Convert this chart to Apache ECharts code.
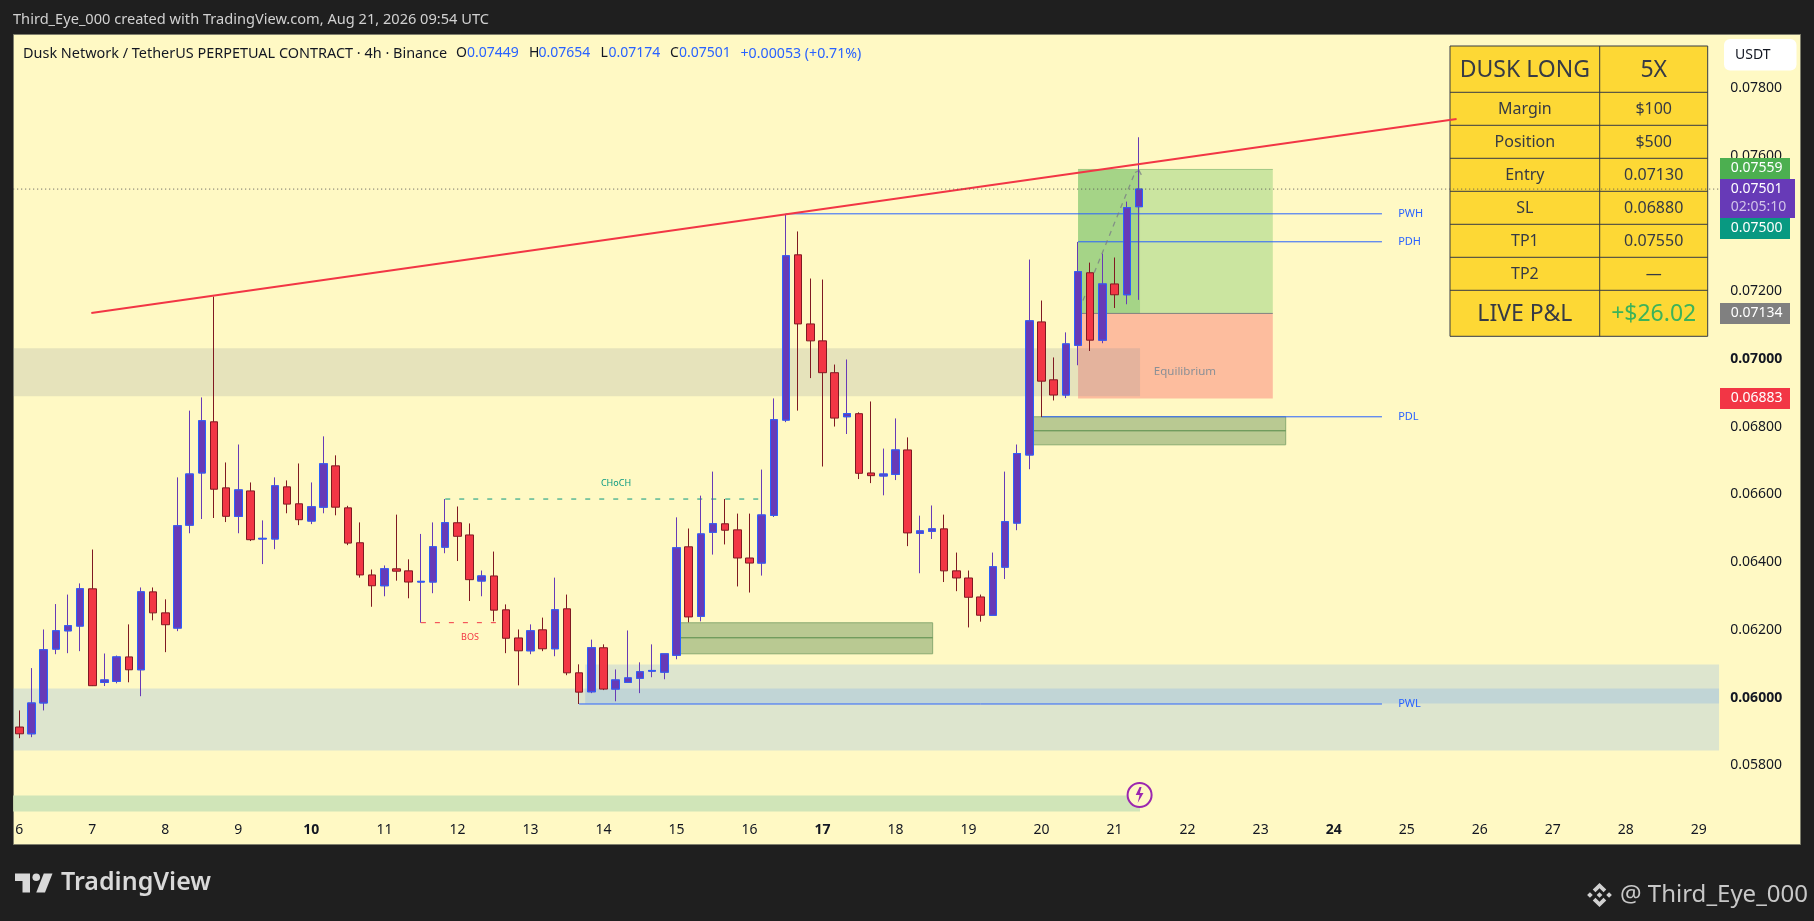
<!DOCTYPE html>
<html><head><meta charset="utf-8">
<style>html,body{margin:0;padding:0;background:#1f1f1f;overflow:hidden}#c{width:1814px;height:921px}</style>
<script src="https://cdn.jsdelivr.net/npm/echarts@6/dist/echarts.min.js"></script>
</head><body><div id="c"></div>
<script>
const dayLabels=[6,7,8,9,10,11,12,13,14,15,16,17,18,19,20,21,22,23,24,25,26,27,28,29];
const boldDays=[10,17,24];
const opens=[.05913,.05893,.05984,.06143,.06197,.06211,.06321,.06045,.06048,.06120,
.06082,.06312,.06250,.06205,.06509,.06663,.06814,.06619,.06535,.06610,
.06468,.06468,.06622,.06572,.06521,.06562,.06684,.06560,.06457,.06362,
.06330,.06380,.06374,.06341,.06341,.06444,.06516,.06480,.06344,.06359,
.06259,.06176,.06138,.06200,.06144,.06262,.06073,.06017,.06147,.06025,
.06045,.06057,.06078,.06075,.06125,.06445,.06240,.06488,.06513,.06495,
.06412,.06397,.06538,.06819,.07307,.07103,.07053,.06959,.06829,.06838,
.06663,.06654,.06659,.06731,.06485,.06491,.06498,.06374,.06353,.06297,
.06243,.06385,.06515,.06716,.07109,.06938,.06893,.07040,.07254,.07055,
.07221,.07189,.07449];
const closes=[.05893,.05984,.06141,.06197,.06212,.06321,.06035,.06052,.06120,.06082,
.06312,.06250,.06215,.06507,.06660,.06817,.06615,.06535,.06613,.06466,
.06470,.06625,.06571,.06525,.06563,.06690,.06562,.06456,.06362,.06330,
.06380,.06373,.06341,.06343,.06445,.06516,.06476,.06348,.06359,.06258,
.06175,.06138,.06197,.06144,.06259,.06073,.06016,.06147,.06025,.06052,
.06058,.06076,.06080,.06129,.06442,.06238,.06483,.06513,.06494,.06412,
.06397,.06539,.06820,.07304,.07103,.07053,.06959,.06825,.06838,.06662,
.06655,.06660,.06731,.06486,.06492,.06498,.06374,.06353,.06296,.06243,
.06386,.06519,.06720,.07112,.06934,.06893,.07044,.07257,.07055,.07221,
.07189,.07446,.07501];
const lows=[.05880,.05883,.05962,.06128,.06131,.06137,.06034,.06034,.06042,.06045,
.06004,.06228,.06134,.06196,.06485,.06527,.06530,.06518,.06485,.06462,
.06394,.06438,.06544,.06509,.06512,.06544,.06538,.06450,.06354,.06268,
.06299,.06345,.06293,.06221,.06308,.06426,.06403,.06285,.06299,.06225,
.06131,.06036,.06128,.06137,.06122,.06066,.05981,.06013,.06022,.05989,
.06045,.06013,.06060,.06054,.06113,.06222,.06225,.06422,.06452,.06328,
.06310,.06360,.06533,.06813,.06847,.06943,.06682,.06800,.06778,.06645,
.06633,.06597,.06642,.06447,.06367,.06468,.06341,.06314,.06207,.06224,
.06243,.06350,.06494,.06674,.06828,.06877,.06884,.06981,.07023,.07046,
.07150,.07161,.07174];
const highs=[.05962,.06087,.06201,.06276,.06304,.06337,.06437,.06130,.06124,.06216,
.06325,.06325,.06290,.06650,.06847,.06886,.07184,.06694,.06747,.06635,
.06523,.06650,.06641,.06691,.06635,.06771,.06715,.06566,.06517,.06378,
.06390,.06540,.06408,.06483,.06517,.06586,.06564,.06514,.06375,.06431,
.06275,.06201,.06216,.06236,.06354,.06304,.06098,.06171,.06157,.06083,
.06198,.06104,.06157,.06129,.06532,.06499,.06596,.06667,.06586,.06543,
.06543,.06673,.06883,.07428,.07376,.07237,.07234,.06983,.06998,.06842,
.06874,.06735,.06824,.06768,.06537,.06567,.06540,.06428,.06375,.06304,
.06428,.06667,.06747,.07293,.07172,.07004,.07078,.07345,.07284,.07310,
.07299,.07464,.07654];
// zones: name, first bar, last bar, upper price, lower price
const zones=[
 ['weekLowerBox',-0.5,139.67,.060267,.058437],
 ['weekUpperBox',46.5,139.67,.060976,.059825],
 ['strip',-0.5,92.09,.057108,.056636],
 ['dailyBox',-0.5,92.09,.070313,.068896]];
const positionBars=[87,92.09,103];
const positionPrices={target:.07559,entry:.07134,stop:.06883};
const demandBoxes=[[54,75.05,.062207,.061764,.061292],[83,104.06,.068288,.067875,.067461]];
const levels=[['PWH',63,111.97,.07428],['PDH',87,111.97,.073454],['PDL',84,111.97,.068288],['PWL',46,111.97,.05981]];
const levelLabelBar=113.3;
const structure=[['CHoCH',35,61.45,.06586,49.03,.066328],['BOS',33,39.17,.06221,37.03,.06177]];
const trendline=[[5.92,.071355],[118.1,.077076]];
const projection=[[87.4,.07172],[91.68,.0755],[92.01,.07556],[92.31,.07535]];
const lastPrice=.07501;
const equilibriumLabel=['Equilibrium',95.78,.06962];
const tableRows=[['DUSK LONG','5X'],['Margin','$100'],['Position','$500'],['Entry','0.07130'],['SL','0.06880'],['TP1','0.07550'],['TP2','—'],['LIVE P&L','+$26.02']];
const priceTicksBold=['0.07000','0.06000'];
const priceTags=[['0.07559','#4caf50',158,179],['0.07500','#089981',218,239],['0.07134','#808080',303,324],['0.06883','#f23645',388,409]];

const FONT='"Noto Sans",sans-serif';
const cats=[];for(let i=0;i<141;i++)cats.push(i%6===0?String(dayLabels[i/6]):'');
const candleData=opens.map((o,i)=>[o,closes[i],lows[i],highs[i]]);
const upBodies=opens.map((o,i)=>closes[i]>=o?[o,closes[i],o,closes[i]]:'-');
const xPx=(api,i)=>api.coord([0,.07])[0]+i*api.size([1,0])[0];
const yPx=(api,v)=>api.coord([0,v])[1];
const zoneStyle={weekLowerBox:'rgba(85,149,251,0.2)',weekUpperBox:'rgba(85,149,251,0.2)',strip:'#d0e5b8',dailyBox:'rgba(130,139,156,0.2)'};
function rect(api,a,b,t,bm,style){const x=xPx(api,a),y=yPx(api,t);return {type:'rect',shape:{x,y,width:xPx(api,b)-x,height:yPx(api,bm)-y},style};}
function seg(api,a,va,b,vb,style){return {type:'line',shape:{x1:xPx(api,a),y1:yPx(api,va),x2:xPx(api,b),y2:yPx(api,vb)},style};}
function lbl(api,a,v,text,fill,size,align){return {type:'text',x:xPx(api,a),y:yPx(api,v),style:{text,fill,font:size+'px '+FONT,align:align||'center',verticalAlign:'middle'}};}
const custom=(name,z,n,render)=>({type:'custom',name,z,coordinateSystem:'cartesian2d',clip:true,silent:true,encode:{x:0,y:1},data:Array.from({length:n},(_,i)=>[i,.07]),renderItem:(p,api)=>render(p.dataIndex,api)});

const series=[
 custom('position',1,1,(i,api)=>{
  const [a,m,b]=positionBars,{target,entry,stop}=positionPrices;
  return {type:'group',children:[
   rect(api,a,b,target,entry,{fill:'#cbe5a0'}),
   rect(api,a,m,target,entry,{fill:'#a5d487'}),
   rect(api,a,b,entry,stop,{fill:'#fdbd9e'}),
   seg(api,a,target,b,target,{stroke:'#a0c884',lineWidth:1}),
   seg(api,a,entry,b,entry,{stroke:'#808080',lineWidth:1})]};}),
 custom('zones',1,zones.length,(i,api)=>{const z=zones[i];return rect(api,z[1],z[2],z[3],z[4],{fill:zoneStyle[z[0]]});}),
 custom('demand',2,demandBoxes.length,(i,api)=>{const d=demandBoxes[i];return {type:'group',children:[
   rect(api,d[0],d[1],d[2],d[4],{fill:'#b9c992',stroke:'#8aab72',lineWidth:1}),
   seg(api,d[0],d[3],d[1],d[3],{stroke:'#558a4a',lineWidth:1})]};}),
 custom('levels',2,levels.length,(i,api)=>{const l=levels[i];return {type:'group',children:[
   seg(api,l[1],l[3],l[2],l[3],{stroke:'#2962ff',lineWidth:1}),
   lbl(api,levelLabelBar,l[3],l[0],'#2962ff',11,'left')]};}),
 custom('structure',2,structure.length,(i,api)=>{const s=structure[i],c=i?'#f23645':'#089981';return {type:'group',children:[
   seg(api,s[1],s[3],s[2],s[3],{stroke:c,lineWidth:1,lineDash:[5,9]}),
   lbl(api,s[4],s[5],s[0],c,9)]};}),
 custom('equilibrium',2,1,(i,api)=>lbl(api,equilibriumLabel[1],equilibriumLabel[2],equilibriumLabel[0],'#8a8f96',11.5)),
 custom('projection',2,1,(i,api)=>({type:'group',children:projection.slice(1).map((q,k)=>seg(api,projection[k][0],projection[k][1],q[0],q[1],{stroke:'rgba(120,123,134,0.75)',lineWidth:1.3,lineDash:[5,5]}))})),
 {type:'candlestick',name:'DUSKUSDT',z:3,barWidth:8,silent:true,data:candleData,
  itemStyle:{color:'#673ab7',color0:'#f23645',borderColor:'#673ab7',borderColor0:'#801922',borderWidth:1}},
 {type:'candlestick',name:'up bodies',z:4,barWidth:8,silent:true,data:upBodies,
  itemStyle:{color:'#673ab7',color0:'#673ab7',borderColor:'#2962ff',borderColor0:'#2962ff',borderWidth:1}},
 custom('trendline',6,1,(i,api)=>seg(api,trendline[0][0],trendline[0][1],trendline[1][0],trendline[1][1],{stroke:'#f23645',lineWidth:2})),
 custom('last price',6,1,(i,api)=>seg(api,-0.5,lastPrice,139.67,lastPrice,{stroke:'#555',lineWidth:1,lineDash:[1,3]}))
];

const T=(x,y,text,fill,size,weight)=>({type:'text',x,y,z:60,style:{text,fill,font:(weight?weight+' ':'')+size+'px '+FONT,align:'left',verticalAlign:'middle'}});
const poly=(pts,fill,z,sx,sy,ox,oy)=>({type:'polygon',z,shape:{points:pts.map(p=>[ox+p[0]*sx,oy+p[1]*sy])},style:{fill}});
const g=[];
g.push({type:'rect',z:-10,shape:{x:13.5,y:34.5,width:1787,height:810},style:{fill:'#fff9c4',stroke:'#7f7f6c',lineWidth:1}});
// header
g.push(T(13,20,'Third_Eye_000 created with TradingView.com, Aug 21, 2026 09:54 UTC','#d1d1d1',14.6));
g.push(T(23,53.5,'Dusk Network / TetherUS PERPETUAL CONTRACT · 4h · Binance','#131722',14.45));
[['O',456,'0.07449',467],['H',529,'0.07654',538.5],['L',600.5,'0.07174',608.5],['C',670,'0.07501',679]].forEach(a=>{
 g.push(T(a[1],53.5,a[0],'#131722',14));g.push(T(a[3],53.5,a[2],'#2962ff',14));});
g.push(T(740.5,53.5,'+0.00053 (+0.71%)','#2962ff',14.2));
// table
const colX=[1450,1599.7,1707.7],rowY=[46,92.3,125.3,158.3,191.3,224.3,257.3,290.3,336.3];
g.push({type:'rect',z:0,shape:{x:colX[0],y:rowY[0],width:colX[2]-colX[0],height:rowY[8]-rowY[0]},style:{fill:'#fdd835',stroke:'#363a45',lineWidth:1}});
rowY.slice(1,8).forEach(y=>g.push({type:'line',z:0,shape:{x1:colX[0],y1:y,x2:colX[2],y2:y},style:{stroke:'#363a45',lineWidth:1}}));
g.push({type:'line',z:0,shape:{x1:colX[1],y1:rowY[0],x2:colX[1],y2:rowY[8]},style:{stroke:'#363a45',lineWidth:1}});
tableRows.forEach((r,i)=>{const big=i===0||i===7,yc=(rowY[i]+rowY[i+1])/2+1,size=big?23:16;
 g.push({type:'text',z:1,x:(colX[0]+colX[1])/2,y:yc,style:{text:r[0],fill:'#363a45',font:size+'px '+FONT,align:'center',verticalAlign:'middle'}});
 g.push({type:'text',z:1,x:(colX[1]+colX[2])/2,y:yc,style:{text:r[1],fill:i===7?'#3cb35a':'#363a45',font:size+'px '+FONT,align:'center',verticalAlign:'middle'}});});
// USDT button
g.push({type:'rect',z:50,shape:{x:1724,y:39,width:72.5,height:31.5,r:6},style:{fill:'#fff'}});
g.push(T(1735,54.6,'USDT','#131722',14));
// tags
priceTags.forEach(t=>{g.push({type:'rect',z:50,shape:{x:1720,y:t[2],width:70,height:t[3]-t[2]},style:{fill:t[1]}});g.push(T(1730.7,(t[2]+t[3])/2,t[0],'#fff',14));});
g.push({type:'rect',z:51,shape:{x:1720,y:179,width:75,height:39},style:{fill:'#673ab7'}});
g.push(T(1730.7,189,'0.07501','#fff',14));g.push(T(1730.7,207,'02:05:10','#d1c4e9',14));
// bolt marker
g.push({type:'circle',z:55,shape:{cx:1139.6,cy:795,r:12},style:{fill:'#fff9c4',stroke:'#9c27b0',lineWidth:2}});
g.push(poly([[3,0],[0,6],[3,6],[1.5,12],[6,4.5],[3.2,4.5],[4.5,0]],'#9c27b0',56,1.3,1.33,1135.7,787));
// footer: TradingView mark
const tvS=[1.25,1.267,12.5,865.9];
g.push(poly([[14,6],[2,6],[2,12],[8,12],[8,21],[14,21]],'#d9d9d9',60,...tvS));
g.push(poly([[26,21],[19,21],[25,6],[32,6]],'#d9d9d9',60,...tvS));
g.push({type:'circle',z:60,shape:{cx:12.5+19*1.25,cy:865.9+9*1.267,r:3.8},style:{fill:'#d9d9d9'}});
g.push(T(61,883,'TradingView','#d9d9d9',25,600));
// footer: diamond mark
const bS=[1.125,1.083,1586,882];
[[[12,9.5],[14.5,12],[12,14.5],[9.5,12]],[[3.5,9.5],[6,12],[3.5,14.5],[1,12]],[[20.5,9.5],[23,12],[20.5,14.5],[18,12]],
 [[12,1],[18,7],[15.6,9.4],[12,5.8],[8.4,9.4],[6,7]],[[12,23],[18,17],[15.6,14.6],[12,18.2],[8.4,14.6],[6,17]]].forEach(p=>g.push(poly(p,'#d1d1d1',60,...bS)));
g.push(T(1620,895,'@ Third_Eye_000','#c8c8c8',24));

const chart=echarts.init(document.getElementById('c'),null,{renderer:'canvas',width:1814,height:921});
chart.setOption({
 animation:false,backgroundColor:'#1f1f1f',
 grid:{left:13.2,top:33.6,width:1715.97,height:799.45,containLabel:false},
 tooltip:{show:false},
 xAxis:{type:'category',data:cats,boundaryGap:true,axisLine:{show:false},axisTick:{show:false},splitLine:{show:false},
  axisLabel:{inside:true,margin:3.5,interval:i=>i%6===0,verticalAlign:'middle',hideOverlap:false,color:'#131722',fontFamily:FONT,fontSize:14,
   formatter:v=>boldDays.includes(+v)?'{b|'+v+'}':v,rich:{b:{fontWeight:'bold',fontFamily:FONT,fontSize:14,color:'#131722'}}}},
 yAxis:{type:'value',position:'right',min:.056,max:.0796,interval:.002,axisLine:{show:false},axisTick:{show:false},splitLine:{show:false},
  axisLabel:{margin:1,align:'left',color:'#131722',fontFamily:FONT,fontSize:14,showMinLabel:false,showMaxLabel:false,
   formatter:v=>{const s=v.toFixed(5);return priceTicksBold.includes(s)?'{b|'+s+'}':s;},rich:{b:{fontWeight:'bold',fontFamily:FONT,fontSize:14,color:'#131722'}}}},
 graphic:{elements:g},
 series
});
</script></body></html>
